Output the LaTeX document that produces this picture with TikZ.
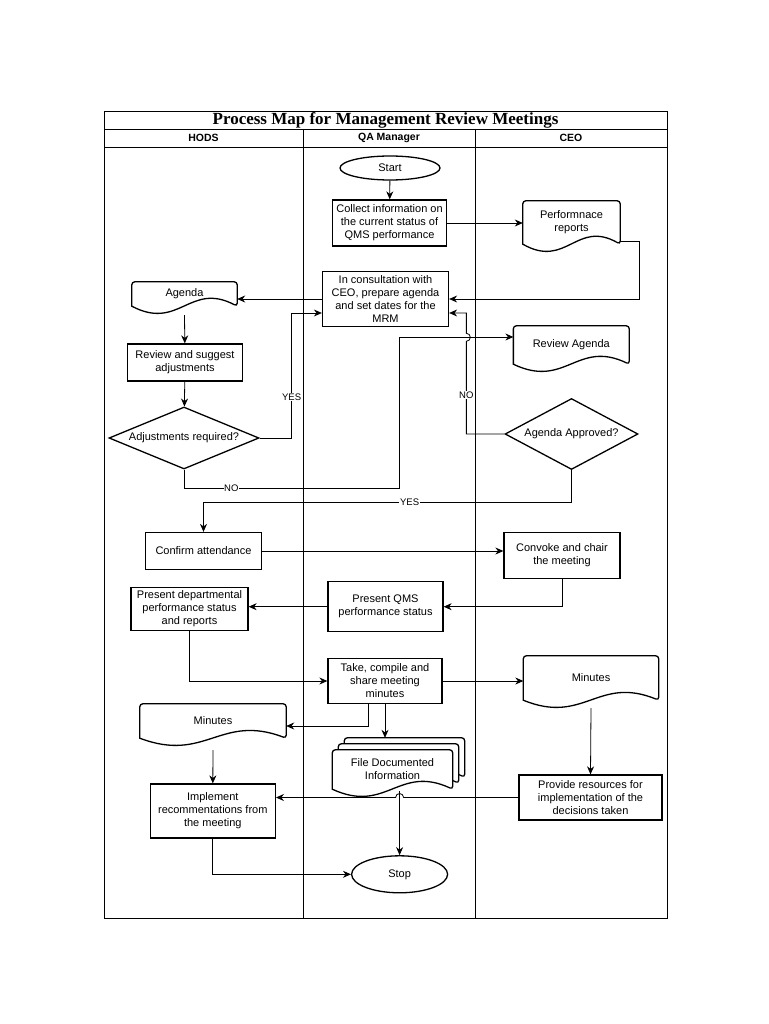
\documentclass[tikz,border=0pt]{standalone}
\usepackage{fontspec}
\setmainfont{Liberation Sans}
\newfontfamily\titlefont{Liberation Serif}
\usetikzlibrary{arrows.meta,shapes.geometric,calc,backgrounds}
\pgfdeclarelayer{paper}
\pgfsetlayers{paper,background,main}

\newcommand{\docline}[2][0]{%
  \draw[line width=1.3pt, fill=white, rounded corners=3pt]
    ($(#2.south west)+(#1,-#1)$) -- ($(#2.north west)+(#1,-#1)$) -- ($(#2.north east)+(#1,-#1)$) -- ($(#2.south east)+(#1,-#1)$) [sharp corners]
    .. controls ($(#2.south east)!0.45!(#2.south west)+(#1,-#1-25)$) and ($(#2.south west)!0.45!(#2.south east)+(#1,-#1+25)$) .. ($(#2.south west)+(#1,-#1)$) -- cycle;}

\begin{document}
\begin{tikzpicture}[x=1pt, y=-1pt,
    box/.style={draw, line width=1.3pt, align=center, inner sep=1pt, font=\fontsize{11}{13}\selectfont},
    doc/.style={align=center, inner sep=1pt, font=\fontsize{11}{13}\selectfont},
    term/.style={draw, ellipse, line width=1.3pt, inner sep=0pt, font=\fontsize{11}{13}\selectfont},
    dec/.style={draw, diamond, aspect=3, line width=1.3pt, inner sep=0pt, font=\fontsize{11}{13}\selectfont},
    arr/.style={line width=0.8pt, -{Stealth[length=8pt, width=7pt]}},
    lbl/.style={fill=white, inner sep=0.6pt, font=\fontsize{9.5}{10}\selectfont},
    lane/.style={line width=0.8pt},
    head/.style={font=\fontsize{10.5}{12}\selectfont\bfseries}
  ]
  \useasboundingbox (0,0) rectangle (768,1024);
  \begin{pgfonlayer}{paper}
    \fill[white] (0,0) rectangle (768,1024);
  \end{pgfonlayer}

  \draw[lane] (104,111) rectangle (667,918);
  \draw[lane] (104,129) -- (667,129);
  \draw[lane] (104,147) -- (667,147);
  \draw[lane] (303,129) -- (303,918);
  \draw[lane] (475,129) -- (475,918);
  \node[font=\fontsize{17}{18}\selectfont\titlefont\bfseries] (title) at (385.5,120) {Process Map for Management Review Meetings};
  \node[head] (hods) at (203.5,138) {HODS};
  \node[head] (qam) at (389,138) {QA Manager};
  \node[head] (ceo) at (571,138) {CEO};

  \node[term, minimum width=100pt, minimum height=24pt] (start) at (390,168) {Start};
  \node[box, minimum width=114pt, minimum height=46pt] (collect) at (389.5,223) {Collect information on\\the current status of\\QMS performance};
  \node[doc, minimum width=97pt, minimum height=43pt] (perf) at (571.5,222.5) {Performnace\\reports};
  \node[box, minimum width=126pt, minimum height=55pt] (consult) at (385.5,299) {In consultation with\\CEO, prepare agenda\\and set dates for the\\MRM};
  \node[doc, minimum width=105pt, minimum height=24pt] (agenda) at (184.5,294) {Agenda};
  \node[box, minimum width=115pt, minimum height=37pt] (review) at (185,362.5) {Review and suggest\\adjustments};
  \node[dec, minimum width=150pt, minimum height=62pt] (adj) at (184,438) {Adjustments required?};
  \node[doc, minimum width=115.5pt, minimum height=38pt] (revagenda) at (571.3,345) {Review Agenda};
  \node[dec, aspect=2.5, minimum width=133pt, minimum height=71pt] (approved) at (571.5,434) {Agenda Approved?};
  \node[box, minimum width=116pt, minimum height=37pt] (confirm) at (203.5,551) {Confirm attendance};
  \node[box, minimum width=116pt, minimum height=46pt] (convoke) at (562,555.3) {Convoke and chair\\the meeting};
  \node[box, minimum width=117pt, minimum height=43pt] (presdep) at (189.5,608.7) {Present departmental\\performance status\\and reports};
  \node[box, minimum width=115pt, minimum height=50pt] (presqms) at (385.5,606.7) {Present QMS\\performance status};
  \node[box, minimum width=114pt, minimum height=45pt] (take) at (385,681) {Take, compile and\\share meeting\\minutes};
  \node[doc, minimum width=135pt, minimum height=44pt] (minceo) at (591,678) {Minutes};
  \node[doc, minimum width=146pt, minimum height=34pt] (minhods) at (213,721) {Minutes};
  \node[doc, minimum width=120pt, minimum height=39pt] (file) at (392.5,769.5) {File Documented\\Information};
  \node[box, minimum width=143pt, minimum height=45pt] (provide) at (590.5,797.5) {Provide resources for\\implementation of the\\decisions taken};
  \node[box, minimum width=125pt, minimum height=54pt] (implement) at (212.8,811) {Implement\\recommentations from\\the meeting};
  \node[term, minimum width=96pt, minimum height=37pt] (stop) at (399.6,874.3) {Stop};

  \begin{scope}[on background layer]
    \docline{perf}
    \docline{agenda}
    \docline{revagenda}
    \docline{minceo}
    \docline{minhods}
    \docline[12]{file}
    \docline[6]{file}
    \docline{file}
  \end{scope}

  \draw[arr] (start) -- (collect);
  \draw[arr] (collect.east) -- (collect.east -| perf.west);
  \draw[arr] ($(perf.south east)+(0,-3)$) -- ++(19,0) |- (consult.east);
  \draw[arr] (consult.west) -- (consult.west -| agenda.east);
  \draw[arr] ($(agenda.south)+(0,9)$) -- (review);
  \draw[arr] (review) -- (adj);
  \draw[arr] (adj.east) -- ++(32,0) |- ($(consult.west)+(0,14)$) node[lbl, pos=0.165] {YES};
  \draw[arr] (adj.south) |- ++(215,19) node[lbl, pos=0.61] {NO} |- ($(revagenda.west)+(0,-8)$);
  \draw[arr] (approved.west) -- ++(-38,0) -- ++(0,-92.7) node[lbl, pos=0.42] {NO} arc(90:-90:4) |- ($(consult.east)+(0,14)$);
  \draw[arr] (approved.south) -- ++(0,32) -| (confirm.north) node[lbl, pos=0.22] {YES};
  \draw[arr] (confirm.east) -- (confirm.east -| convoke.west);
  \draw[arr] (convoke.south) |- (presqms.east);
  \draw[arr] (presqms.west) -- (presqms.west -| presdep.east);
  \draw[arr] (presdep.south) |- (take.west);
  \draw[arr] (take.east) -- (take.east -| minceo.west);
  \draw[arr] ($(take.south)+(-17,0)$) |- ($(minhods.east)+(0,5)$);
  \draw[arr] (take.south) -- ($(take.south |- file.north)+(0,-12)$);
  \draw[arr] ($(minhods.south)+(0,12)$) -- (implement.north);
  \draw[arr] ($(minceo.south)+(0,8)$) -- (provide.north);
  \draw[arr] (provide.west) -- ($(stop.north |- provide.west)+(4,0)$) arc(0:-180:4) -- (implement.east |- provide.west);
  \draw[arr] ($(stop.north |- file.south)+(0,2)$) -- (stop.north);
  \draw[arr] (implement.south) |- (stop.west);
\end{tikzpicture}
\end{document}
